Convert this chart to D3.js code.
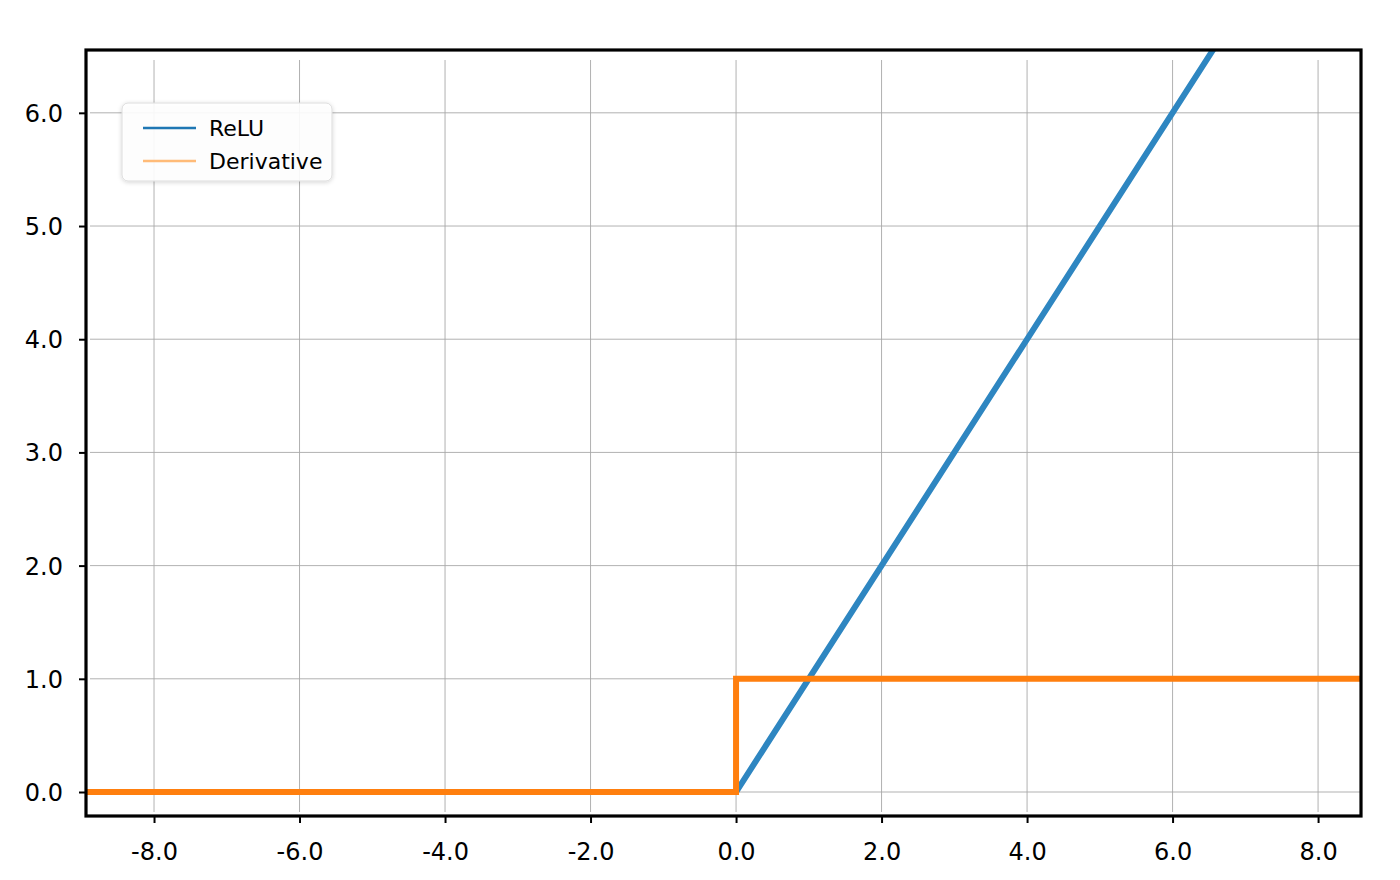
<!DOCTYPE html>
<html><head><meta charset="utf-8">
<script src="https://cdn.jsdelivr.net/npm/d3@7"></script>
<style>body{margin:0;background:#fff}svg{display:block}text{font-family:"DejaVu Sans",sans-serif}</style>
</head><body>
<svg id="c" width="1400" height="880"></svg>
<script>
const xTicks = [-8, -6, -4, -2, 0, 2, 4, 6, 8];
const yTicks = [0, 1, 2, 3, 4, 5, 6];
const reluX = [-9, 0, 9];
const reluY = [0, 0, 9];
const derivX = [-9, 0, 9];
const derivY = [0, 1, 1];
const seriesNames = ["ReLU", "Derivative"];

const svg = d3.select("#c");
const L = 86, R = 1361, T = 50, B = 816;
const x = d3.scaleLinear().domain([-8.935, 8.59]).range([L, R]);
const y = d3.scaleLinear().domain([-0.212, 6.555]).range([B, T]);
const fmt = d => d.toFixed(1);

svg.append("defs").append("clipPath").attr("id","clip")
  .append("rect").attr("x",L).attr("y",T).attr("width",R-L).attr("height",B-T);
const f = svg.append("defs").append("filter").attr("id","sh").attr("x","-10%").attr("y","-10%").attr("width","130%").attr("height","140%");
f.append("feDropShadow").attr("dx",0).attr("dy",1).attr("stdDeviation",2).attr("flood-color","#000").attr("flood-opacity",0.18);

// grid
const g = svg.append("g");
g.selectAll("line.vx").data(xTicks).join("line")
  .attr("x1",d=>x(d)).attr("x2",d=>x(d)).attr("y1",T+10).attr("y2",B-4)
  .attr("stroke","#a8a8a8").attr("stroke-width",0.9);
g.selectAll("line.hy").data(yTicks).join("line")
  .attr("x1",L+4).attr("x2",R).attr("y1",d=>y(d)).attr("y2",d=>y(d))
  .attr("stroke","#a8a8a8").attr("stroke-width",0.9);

// lines
const plot = svg.append("g").attr("clip-path","url(#clip)");
const reluData = reluX.map((v,i)=>[v, reluY[i]]);
const derivData = derivX.map((v,i)=>[v, derivY[i]]);
plot.append("path").datum(reluData)
  .attr("d", d3.line().x(d=>x(d[0])).y(d=>y(d[1])))
  .attr("fill","none").attr("stroke","#2e86c1").attr("stroke-width",6);
plot.append("path").datum(derivData)
  .attr("d", d3.line().curve(d3.curveStepAfter).x(d=>x(d[0])).y(d=>y(d[1])))
  .attr("fill","none").attr("stroke","#ff7f0e").attr("stroke-width",6);

// axes
const xa = svg.append("g").attr("transform",`translate(0,${B})`)
  .call(d3.axisBottom(x).tickValues(xTicks).tickFormat(fmt).tickSize(7).tickPadding(20));
const ya = svg.append("g").attr("transform",`translate(${L},0)`)
  .call(d3.axisLeft(y).tickValues(yTicks).tickFormat(fmt).tickSize(7).tickPadding(16));
[xa, ya].forEach(a=>{
  a.attr("font-size",24).attr("font-family","DejaVu Sans");
  a.select(".domain").remove();
  a.selectAll(".tick line").attr("stroke","#000").attr("stroke-width",2);
  a.selectAll(".tick text").attr("font-size",24).attr("fill","#000");
});
ya.selectAll(".tick text").attr("dy","0.35em");

// frame
svg.append("rect").attr("x",L).attr("y",T).attr("width",R-L).attr("height",B-T)
  .attr("fill","none").attr("stroke","#000").attr("stroke-width",3.2);

// legend
const lg = svg.append("g").attr("transform","translate(122,103)");
lg.append("rect").attr("width",210).attr("height",78).attr("rx",6)
  .attr("fill","#fff").attr("fill-opacity",0.9).attr("stroke","#dcdcdc").attr("stroke-width",1).attr("filter","url(#sh)");
const legColors = ["#1f77b4", "#ffbb78"];
seriesNames.forEach((n,i)=>{
  const yy = 25 + i*33;
  lg.append("line").attr("x1",21).attr("x2",74).attr("y1",yy).attr("y2",yy)
    .attr("stroke",legColors[i]).attr("stroke-width",2.4);
  lg.append("text").attr("x",87).attr("y",yy).attr("dy","0.36em")
    .attr("font-size",22).attr("fill","#000").text(n);
});
</script>
</body></html>
